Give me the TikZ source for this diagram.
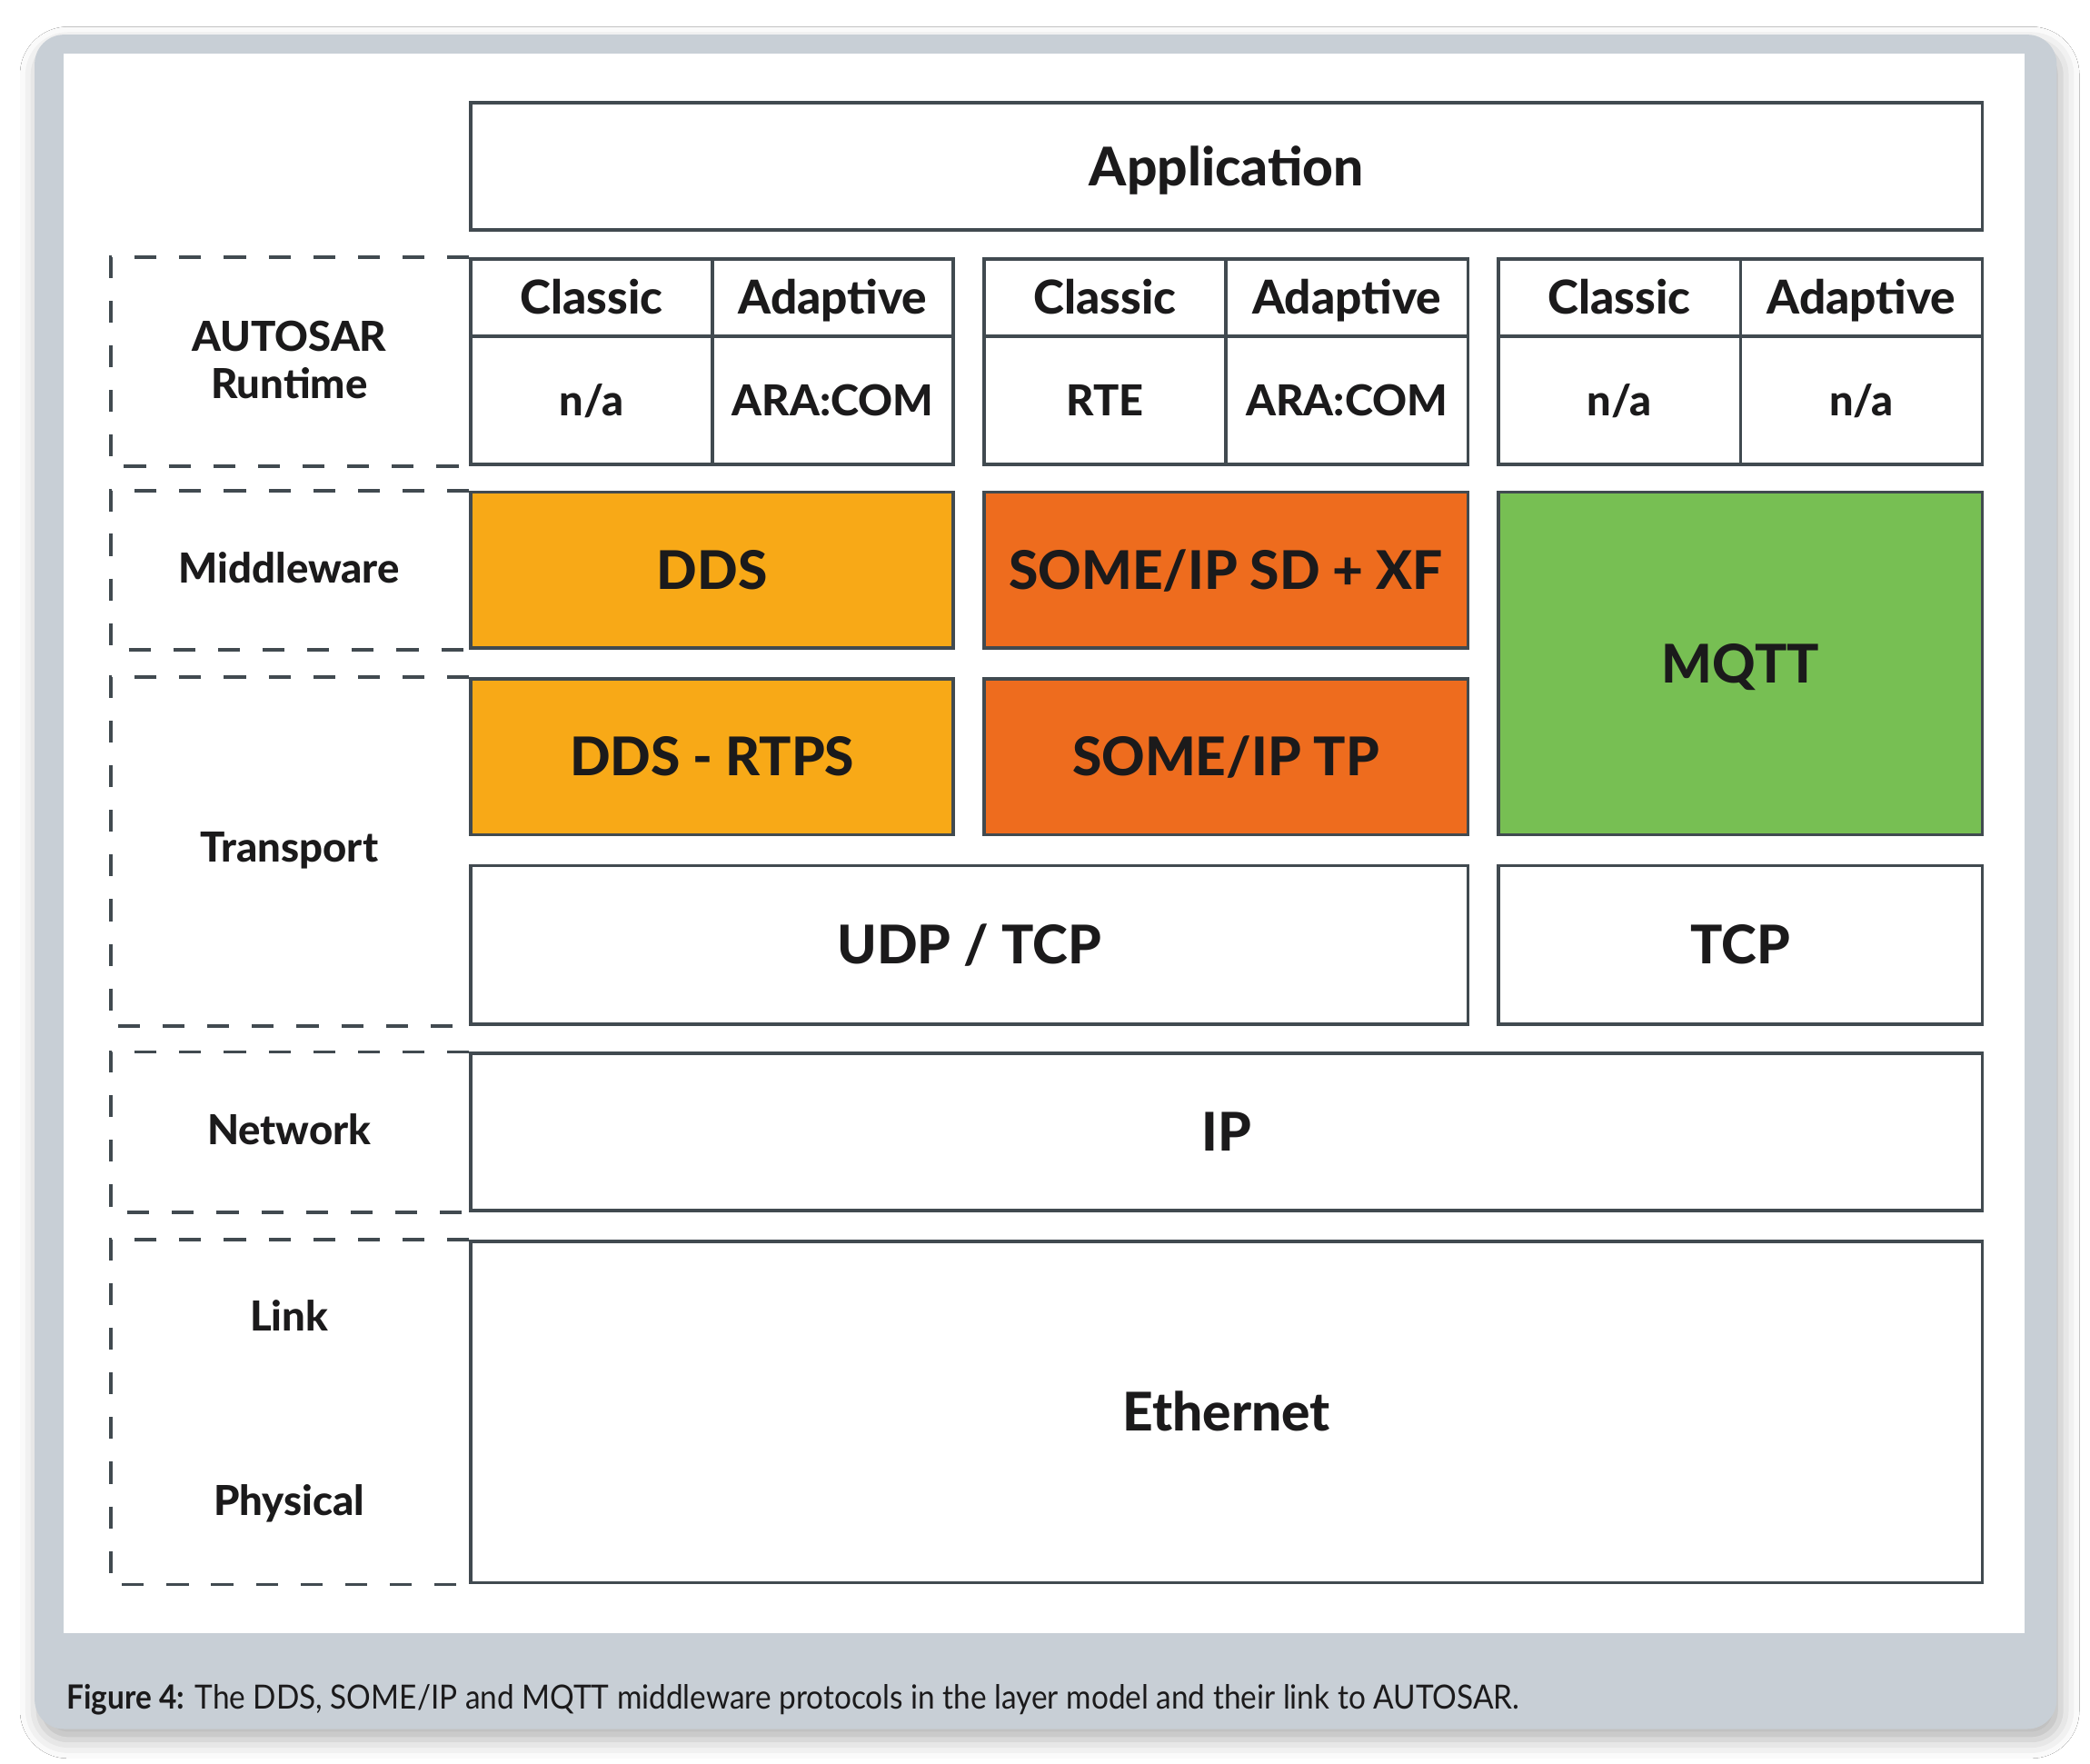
\documentclass[tikz,border=0pt]{standalone}
\usepackage{fontspec}
\setmainfont{Lato}[BoldFont={Lato Heavy}]
\newfontfamily\capfont[FakeStretch=0.91]{Lato}
\usetikzlibrary{shadows.blur}
\definecolor{framegray}{HTML}{C8CFD6}
\definecolor{ln}{HTML}{414A50}
\definecolor{ddsc}{HTML}{F8A917}
\definecolor{somec}{HTML}{EE6C1E}
\definecolor{mqttc}{HTML}{77BF53}
\definecolor{txt}{HTML}{1B1A1B}
\tikzset{
  box/.style={draw=ln, line width=2.5pt, fill=white, inner sep=0pt, anchor=north west, text=txt},
  bigtxt/.style={font=\fontsize{40}{44}\selectfont\bfseries, text height=28.7pt, text depth=0pt},
  headtxt/.style={font=\fontsize{35}{40}\selectfont\bfseries, text height=25pt, text depth=0pt},
  celltxt/.style={font=\fontsize{32}{36}\selectfont\bfseries, text height=23pt, text depth=0pt},
  labtxt/.style={font=\fontsize{31}{35}\selectfont\bfseries, text=txt, align=center},
  dsh/.style={draw=ln, line width=2.5pt, dash pattern=on 16.5pt off 17pt},
}
\begin{document}
\begin{tikzpicture}[x=1pt,y=-1pt]
\useasboundingbox (0,0) rectangle (1568,1323);
\fill[white] (0,0) rectangle (1568,1323);
% frame
\fill[framegray, rounded corners=22pt, blur shadow={shadow xshift=3pt, shadow yshift=-8pt, shadow blur radius=14pt, shadow opacity=30}] (26,26) rectangle (1543,1297);
\fill[white] (48,40) rectangle (1519,1225);
% application
\node[box, bigtxt, minimum width=1134pt, minimum height=95pt] (app) at (352,76) {Application};
% AUTOSAR groups
\node[box, headtxt, minimum width=181pt, minimum height=58pt] (g1h1) at (352,193) {Classic};
\node[box, headtxt, minimum width=181pt, minimum height=58pt] (g1h2) at (533,193) {Adaptive};
\node[box, celltxt, minimum width=181pt, minimum height=96pt] (g1b1) at (352,251) {n/a};
\node[box, celltxt, minimum width=181pt, minimum height=96pt] (g1b2) at (533,251) {ARA:COM};
\node[box, headtxt, minimum width=181.5pt, minimum height=58pt] (g2h1) at (737,193) {Classic};
\node[box, headtxt, minimum width=181.5pt, minimum height=58pt] (g2h2) at (918.5,193) {Adaptive};
\node[box, celltxt, minimum width=181.5pt, minimum height=96pt] (g2b1) at (737,251) {RTE};
\node[box, celltxt, minimum width=181.5pt, minimum height=96pt] (g2b2) at (918.5,251) {ARA:COM};
\node[box, headtxt, minimum width=181.5pt, minimum height=58pt] (g3h1) at (1123,193) {Classic};
\node[box, headtxt, minimum width=181.5pt, minimum height=58pt] (g3h2) at (1304.5,193) {Adaptive};
\node[box, celltxt, minimum width=181.5pt, minimum height=96pt] (g3b1) at (1123,251) {n/a};
\node[box, celltxt, minimum width=181.5pt, minimum height=96pt] (g3b2) at (1304.5,251) {n/a};
% middleware
\node[box, bigtxt, fill=ddsc, minimum width=362pt, minimum height=117pt] (dds) at (352,368) {DDS};
\node[box, bigtxt, fill=somec, minimum width=363pt, minimum height=117pt] (some) at (737,368) {SOME/IP SD + XF};
\node[box, bigtxt, fill=mqttc, minimum width=363pt, minimum height=257pt] (mqtt) at (1123,368) {MQTT};
% transport
\node[box, bigtxt, fill=ddsc, minimum width=362pt, minimum height=117pt] (rtps) at (352,508) {DDS - RTPS};
\node[box, bigtxt, fill=somec, minimum width=363pt, minimum height=117pt] (sometp) at (737,508) {SOME/IP TP};
\node[box, bigtxt, minimum width=748pt, minimum height=119pt] (udp) at (352,648) {UDP / TCP};
\node[box, bigtxt, minimum width=363pt, minimum height=119pt] (tcp) at (1123,648) {TCP};
% network
\node[box, bigtxt, minimum width=1134pt, minimum height=118pt] (ip) at (352,789) {IP};
% ethernet
\node[box, bigtxt, minimum width=1134pt, minimum height=256pt] (eth) at (352,930) {Ethernet};
% dashed label frames
\draw[dsh] (g1h1.north west) -- ++(-269,0) |- (g1b1.south west);
\draw[dsh] (dds.north west) -- ++(-269,0) |- (dds.south west);
\draw[dsh] (rtps.north west) -- ++(-269,0) |- (udp.south west);
\draw[dsh] (ip.north west) -- ++(-269,0) |- (ip.south west);
\draw[dsh] (eth.north west) -- ++(-269,0) |- (eth.south west);
% labels
\node[labtxt] (lauto) at (217,270) {AUTOSAR\\Runtime};
\node[labtxt] (lmid) at (217,426) {Middleware};
\node[labtxt] (ltra) at (217,638) {Transport};
\node[labtxt] (lnet) at (217,847) {Network};
\node[labtxt] (llink) at (217,987) {Link};
\node[labtxt] (lphy) at (217,1128) {Physical};
% caption
\node[anchor=base west, inner sep=0pt, text=txt, font=\capfont\fontsize{25}{28}\selectfont] (cap) at (50,1282) {\textbf{Figure 4:} The DDS, SOME/IP and MQTT middleware protocols in the layer model and their link to AUTOSAR.};
\end{tikzpicture}
\end{document}
